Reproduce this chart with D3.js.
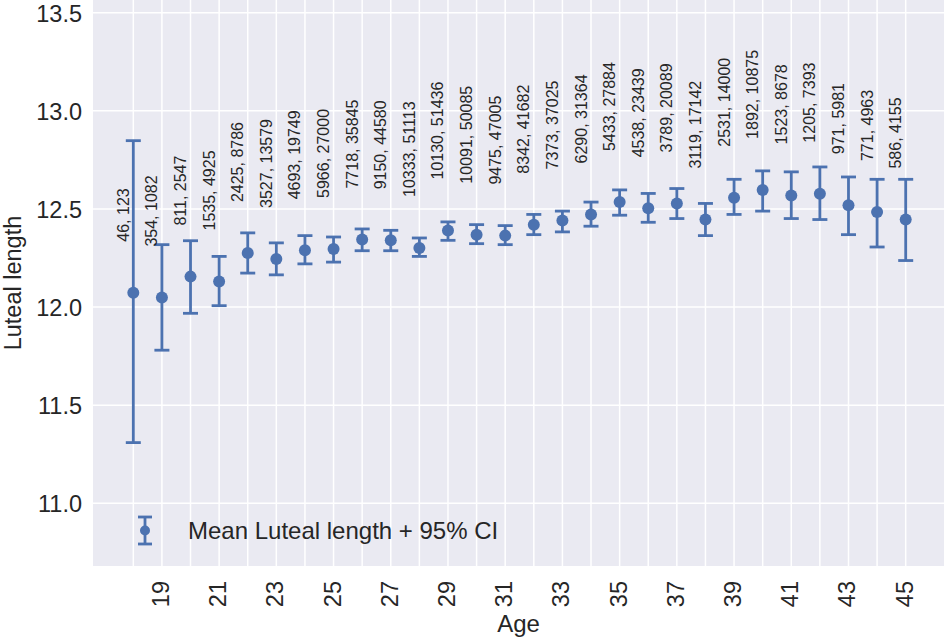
<!DOCTYPE html>
<html>
<head>
<meta charset="utf-8">
<script src="https://cdn.jsdelivr.net/npm/d3@7"></script>
<style>
  body { margin: 0; background: #fff; }
  text { font-family: "Liberation Sans", Arial, sans-serif; fill: #262626; }
</style>
</head>
<body>
<svg id="chart" width="945" height="638"></svg>
<script>
var ages = [18, 19, 20, 21, 22, 23, 24, 25, 26, 27, 28, 29, 30, 31,
            32, 33, 34, 35, 36, 37, 38, 39, 40, 41, 42, 43, 44, 45];

var means = [12.073, 12.048, 12.155, 12.130, 12.275, 12.245, 12.289, 12.296, 12.344, 12.340,
             12.301, 12.390, 12.369, 12.364, 12.420, 12.441, 12.472, 12.535, 12.503, 12.528,
             12.446, 12.557, 12.597, 12.569, 12.578, 12.519, 12.484, 12.446];

var lower = [11.309, 11.780, 11.968, 12.007, 12.173, 12.164, 12.220, 12.229, 12.287, 12.287,
             12.258, 12.340, 12.323, 12.318, 12.369, 12.383, 12.412, 12.468, 12.432, 12.451,
             12.364, 12.472, 12.489, 12.451, 12.446, 12.369, 12.306, 12.237];

var upper = [12.848, 12.318, 12.338, 12.258, 12.378, 12.327, 12.364, 12.357, 12.398, 12.391,
             12.352, 12.434, 12.420, 12.415, 12.472, 12.489, 12.535, 12.597, 12.579, 12.604,
             12.528, 12.651, 12.694, 12.689, 12.714, 12.663, 12.651, 12.651];

// users, cycles per age
var counts = ["46, 123", "354, 1082", "811, 2547", "1535, 4925", "2425, 8786", "3527, 13579",
              "4693, 19749", "5966, 27000", "7718, 35845", "9150, 44580", "10333, 51113",
              "10130, 51436", "10091, 50085", "9475, 47005", "8342, 41682", "7373, 37025",
              "6290, 31364", "5433, 27884", "4538, 23439", "3789, 20089", "3119, 17142",
              "2531, 14000", "1892, 10875", "1523, 8678", "1205, 7393", "971, 5981",
              "771, 4963", "586, 4155"];

var xTicks = [19, 21, 23, 25, 27, 29, 31, 33, 35, 37, 39, 41, 43, 45];
var yTicks = [11.0, 11.5, 12.0, 12.5, 13.0, 13.5];

var blue = "#4c72b0";
var plotLeft = 93, plotRight = 944, plotTop = 0, plotBottom = 566;

var svg = d3.select("#chart");

var x = d3.scaleLinear()
    .domain([18, 45])
    .range([133.3, 905.7]);

var y = d3.scaleLinear()
    .domain([10.68, 13.565])
    .range([plotBottom, plotTop]);

svg.append("rect")
    .attr("x", plotLeft)
    .attr("y", plotTop)
    .attr("width", plotRight - plotLeft)
    .attr("height", plotBottom - plotTop)
    .attr("fill", "#eaeaf2");

// grid
svg.append("g")
  .selectAll("line")
    .data(ages)
  .enter().append("line")
    .attr("x1", function(d) { return x(d); })
    .attr("x2", function(d) { return x(d); })
    .attr("y1", plotTop)
    .attr("y2", plotBottom)
    .attr("stroke", "#fff")
    .attr("stroke-width", 1.5);

svg.append("g")
  .selectAll("line")
    .data(yTicks)
  .enter().append("line")
    .attr("x1", plotLeft)
    .attr("x2", plotRight)
    .attr("y1", function(d) { return y(d); })
    .attr("y2", function(d) { return y(d); })
    .attr("stroke", "#fff")
    .attr("stroke-width", 1.5);

// axes
var yAxis = svg.append("g")
    .attr("transform", "translate(" + plotLeft + ",0)")
    .call(d3.axisLeft(y).tickValues(yTicks).tickFormat(d3.format(".1f")).tickSize(0).tickPadding(11));
yAxis.select(".domain").remove();
yAxis.selectAll("text")
    .style("font-size", "23.5px")
    .attr("dy", "0.36em");

var xAxis = svg.append("g")
    .attr("transform", "translate(0," + plotBottom + ")")
    .call(d3.axisBottom(x).tickValues(xTicks).tickFormat(d3.format("d")).tickSize(0));
xAxis.select(".domain").remove();
xAxis.selectAll("text")
    .style("font-size", "23.5px")
    .attr("text-anchor", "end")
    .attr("dy", "0.36em")
    .attr("transform", "translate(-2,15) rotate(-90)")
    .attr("y", 0)
    .attr("x", 0);

svg.append("text")
    .attr("x", (plotLeft + plotRight) / 2)
    .attr("y", 632)
    .attr("text-anchor", "middle")
    .style("font-size", "24px")
    .text("Age");

svg.append("text")
    .attr("transform", "translate(21," + ((plotTop + plotBottom) / 2) + ") rotate(-90)")
    .attr("text-anchor", "middle")
    .style("font-size", "23.5px")
    .text("Luteal length");

// error bars
var pts = ages.map(function(a, i) {
  return { age: a, mean: means[i], lo: lower[i], hi: upper[i], n: counts[i] };
});

var bars = svg.append("g").selectAll("g")
    .data(pts)
  .enter().append("g")
    .attr("stroke", blue)
    .attr("stroke-width", 2.8)
    .attr("fill", blue);

bars.append("line")
    .attr("x1", function(d) { return x(d.age); })
    .attr("x2", function(d) { return x(d.age); })
    .attr("y1", function(d) { return y(d.lo); })
    .attr("y2", function(d) { return y(d.hi); });

bars.append("line")
    .attr("x1", function(d) { return x(d.age) - 7.5; })
    .attr("x2", function(d) { return x(d.age) + 7.5; })
    .attr("y1", function(d) { return y(d.lo); })
    .attr("y2", function(d) { return y(d.lo); });

bars.append("line")
    .attr("x1", function(d) { return x(d.age) - 7.5; })
    .attr("x2", function(d) { return x(d.age) + 7.5; })
    .attr("y1", function(d) { return y(d.hi); })
    .attr("y2", function(d) { return y(d.hi); });

bars.append("circle")
    .attr("cx", function(d) { return x(d.age); })
    .attr("cy", function(d) { return y(d.mean); })
    .attr("r", 6)
    .attr("stroke", "none");

// count labels
svg.append("g").selectAll("text")
    .data(pts)
  .enter().append("text")
    .attr("transform", function(d) {
      return "translate(" + (x(d.age) - 4.5) + "," + y(d.mean + 0.26) + ") rotate(-90)";
    })
    .style("font-size", "16px")
    .text(function(d) { return d.n; });

// legend
var lg = svg.append("g")
    .attr("stroke", blue)
    .attr("stroke-width", 2.8);
lg.append("line").attr("x1", 145).attr("x2", 145).attr("y1", 517).attr("y2", 544);
lg.append("line").attr("x1", 138).attr("x2", 152).attr("y1", 517).attr("y2", 517);
lg.append("line").attr("x1", 138).attr("x2", 152).attr("y1", 544).attr("y2", 544);
lg.append("circle").attr("cx", 145).attr("cy", 530.5).attr("r", 5).attr("fill", blue).attr("stroke", "none");

svg.append("text")
    .attr("x", 188)
    .attr("y", 539)
    .style("font-size", "24px")
    .text("Mean Luteal length + 95% CI");
</script>
</body>
</html>
